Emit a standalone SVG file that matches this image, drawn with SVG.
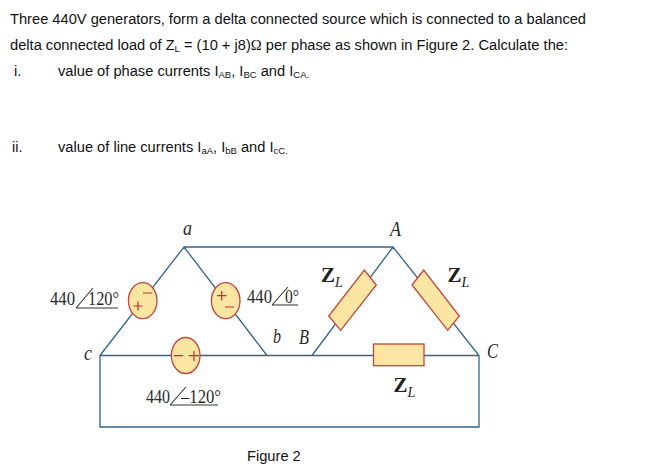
<svg xmlns="http://www.w3.org/2000/svg" width="657" height="471" viewBox="0 0 657 471">
<style>
.t{font-family:"Liberation Sans",Arial,sans-serif;font-size:14.67px;fill:#111}
.s{font-size:9.5px}
.o{font-family:"Liberation Serif","Times New Roman",serif}
.w{fill:none;stroke:#2f6490;stroke-width:1.3}
.e{fill:#fbe5a2;stroke:#c4443a;stroke-width:1.3}
.p{fill:none;stroke:#b8312c;stroke-width:1.2}
.l{font-family:"Liberation Serif","Times New Roman",serif;font-size:19px;fill:#2a2a2a}
.i{font-style:italic;font-size:21px}
.z{font-family:"Liberation Serif","Times New Roman",serif;font-size:21px;font-weight:bold;fill:#222}
.zs{font-size:14px;font-style:italic;font-weight:normal}
.u{fill:none;stroke:#333;stroke-width:1.1}
</style>
<g id="question">
<text class="t" x="10" y="24">Three 440V generators, form a delta connected source which is connected to a balanced</text>
<text class="t" x="10" y="50">delta connected load of Z<tspan class="s" dy="2">L</tspan><tspan dy="-2"> = (10 + j8)</tspan><tspan class="o">Ω</tspan> per phase as shown in Figure 2. Calculate the:</text>
<text class="t" x="14" y="76">i.</text>
<text class="t" x="58" y="76">value of phase currents I<tspan class="s" dy="2">AB</tspan><tspan dy="-2">, I</tspan><tspan class="s" dy="2">BC</tspan><tspan dy="-2"> and I</tspan><tspan class="s" dy="2">CA.</tspan></text>
<text class="t" x="12" y="152">ii.</text>
<text class="t" x="58" y="152">value of line currents I<tspan class="s" dy="2">aA</tspan><tspan dy="-2">, I</tspan><tspan class="s" dy="2">bB</tspan><tspan dy="-2"> and I</tspan><tspan class="s" dy="2">cC.</tspan></text>
</g>
<g id="connectors">
<path class="w" d="M100 355.500L184 247L267 355.500H312L393 247L479 355.500V427H100V355.500H312M184 247H393M312 355.500H479"/>
</g>
<g id="source-ca">
<ellipse class="e" cx="142.700" cy="300.700" rx="14.300" ry="18"/>
<path class="p" d="M143 293h9M133.500 306h9M138 301.500v9"/>
<path class="u" d="M76 308L93 288M76 308H118"/>
<text class="l" x="50" y="305" textLength="25" lengthAdjust="spacingAndGlyphs">440</text>
<text class="l" x="88" y="305" textLength="31" lengthAdjust="spacingAndGlyphs">120°</text>
</g>
<g id="source-ab">
<ellipse class="e" cx="225.700" cy="300.700" rx="14.300" ry="18"/>
<path class="p" d="M217 295.700h9.500M221.700 291v9.500M225 307h9"/>
<path class="u" d="M272 305L288 287M272 305H298"/>
<text class="l" x="247" y="303" textLength="25" lengthAdjust="spacingAndGlyphs">440</text>
<text class="l" x="285" y="303" textLength="14" lengthAdjust="spacingAndGlyphs">0°</text>
</g>
<g id="source-bc">
<ellipse class="e" cx="185.700" cy="355.500" rx="14.300" ry="18"/>
<path class="p" d="M174 355.700h9M189 355.700h10M194 351v10"/>
<path class="u" d="M170 405L186 387M170 405H218"/>
<text class="l" x="146" y="403" textLength="24" lengthAdjust="spacingAndGlyphs">440</text>
<text class="l" x="181" y="403" textLength="40" lengthAdjust="spacingAndGlyphs">–120°</text>
</g>
<g id="load-ab">
<path class="e" d="M364.300 270L376.300 285L340.700 330.300L328.700 316Z"/>
<text class="z" x="321" y="282">Z<tspan class="zs" dy="5">L</tspan></text>
</g>
<g id="load-ca">
<path class="e" d="M423.700 270L412 285L447.700 330.300L459.300 316Z"/>
<text class="z" x="447.500" y="282">Z<tspan class="zs" dy="5">L</tspan></text>
</g>
<g id="load-bc">
<rect class="e" x="373.500" y="344" width="50.500" height="21.700"/>
<text class="z" x="393.500" y="392">Z<tspan class="zs" dy="5">L</tspan></text>
</g>
<g id="labels">
<text class="l i" x="183" y="235" textLength="9" lengthAdjust="spacingAndGlyphs">a</text>
<text class="l i" x="390" y="236" textLength="11" lengthAdjust="spacingAndGlyphs">A</text>
<text class="l i" x="273" y="343" textLength="8" lengthAdjust="spacingAndGlyphs">b</text>
<text class="l i" x="299" y="344" textLength="10" lengthAdjust="spacingAndGlyphs">B</text>
<text class="l i" x="84" y="360" textLength="8" lengthAdjust="spacingAndGlyphs">c</text>
<text class="l i" x="487" y="358" textLength="11" lengthAdjust="spacingAndGlyphs">C</text>
<text class="t" x="247" y="461">Figure 2</text>
</g>
</svg>
